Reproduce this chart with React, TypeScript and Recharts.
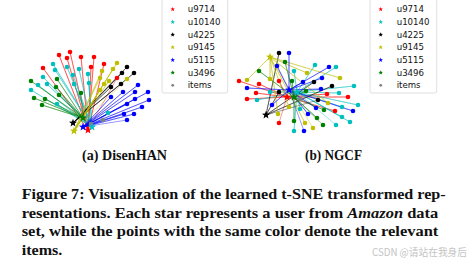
import React from 'react';
import { ScatterChart, Scatter, XAxis, YAxis } from 'recharts';

type P = { x: number; y: number };
const p = (x: number, y: number): P => ({ x, y });

const USERS = ['u9714', 'u10140', 'u4225', 'u9145', 'u5115', 'u3496'];
const USER_COLORS = ['#ff0000', '#00bfbf', '#000000', '#bfbf00', '#0000ff', '#008000'];
const ITEM_LABEL = 'items';
const ITEM_COLOR = '#808080';

// ---- (a) DisenHAN : t-SNE coordinates (arbitrary units) ----
const dhStars: P[] = [p(63, 10), p(67, 13), p(48, 17), p(49, 9), p(58, 13), p(58, 22)];
const dhU9714: P[] = [p(34, 85), p(45, 88), p(42, 82), p(56, 83), p(69, 83), p(66, 73), p(18, 72), p(79, 76), p(92, 62)];
const dhU10140: P[] = [p(28, 76), p(30, 70), p(42, 73), p(54, 71), p(48, 65), p(63, 66), p(18, 63), p(22, 56), p(13, 55), p(49, 56), p(64, 57), p(6, 50), p(32, 36), p(83, 27)];
const dhU4225: P[] = [p(102, 73), p(97, 67), p(109, 67), p(86, 53), p(96, 56)];
const dhU9145: P[] = [p(92, 77), p(77, 69), p(88, 71), p(75, 62), p(84, 59), p(79, 56), p(75, 50), p(102, 61)];
const dhU5115: P[] = [p(113, 55), p(123, 48), p(110, 48), p(98, 48), p(86, 43), p(110, 41), p(124, 40), p(102, 36), p(117, 33), p(99, 26), p(109, 26), p(102, 20)];
const dhU3496: P[] = [p(6, 59), p(32, 61), p(31, 53), p(9, 42), p(20, 41), p(17, 35), p(34, 45), p(56, 47)];
const dhOther: P[] = [p(78, 20), p(66, 16)];

// ---- (b) NGCF ----
const ngStars: P[] = [p(57, 43), p(67, 48), p(36, 25), p(40, 83), p(59, 50), p(64, 43)];
const ngU9714: P[] = [p(9, 59), p(29, 56), p(49, 59), p(26, 47), p(17, 41), p(97, 46), p(118, 43), p(105, 29), p(49, 17)];
const ngU10140: P[] = [p(85, 75), p(64, 69), p(106, 73), p(109, 47), p(124, 54), p(40, 48), p(27, 40), p(112, 33), p(128, 35), p(70, 31), p(112, 23), p(120, 18), p(64, 9), p(106, 15)];
const ngU4225: P[] = [p(49, 87), p(49, 48), p(84, 58), p(102, 54), p(88, 40)];
const ngU9145: P[] = [p(77, 67), p(110, 62), p(17, 60), p(40, 61), p(59, 33), p(98, 37), p(48, 26), p(75, 17), p(83, 12)];
const ngU5115: P[] = [p(59, 87), p(47, 74), p(99, 73), p(92, 62), p(73, 58), p(17, 52), p(91, 51), p(42, 35), p(86, 32), p(123, 29), p(78, 26), p(74, 9)];
const ngU3496: P[] = [p(55, 78), p(29, 69), p(62, 59), p(76, 49), p(94, 30), p(64, 19), p(87, 22), p(93, 15)];
const ngOther: P[] = [p(70, 41)];

const PANEL_W = 135;
const PANEL_H = 95;
const X_DOMAIN: [number, number] = [0, 135];
const Y_DOMAIN: [number, number] = [0, 95];

const starPath = (cx: number, cy: number, ro: number, ri: number) => {
  const pts: string[] = [];
  for (let i = 0; i < 10; i++) {
    const r = i % 2 === 0 ? ro : ri;
    const a = -Math.PI / 2 + (i * Math.PI) / 5;
    pts.push(`${(cx + r * Math.cos(a)).toFixed(2)},${(cy + r * Math.sin(a)).toFixed(2)}`);
  }
  return pts.join(' ');
};

const Nothing = () => <g />;

function Panel({ stars, groups, other, left, top }: { stars: P[]; groups: P[][]; other: P[]; left: number; top: number }) {
  return (
    <div style={{ position: 'absolute', left, top, width: PANEL_W, height: PANEL_H }}>
      <ScatterChart width={PANEL_W} height={PANEL_H} margin={{ top: 0, right: 0, bottom: 0, left: 0 }} style={{ overflow: 'visible' }}>
        <XAxis type="number" dataKey="x" domain={X_DOMAIN} hide allowDataOverflow />
        <YAxis type="number" dataKey="y" domain={Y_DOMAIN} hide allowDataOverflow />
        {groups.map((items, i) => (
          <Scatter
            key={'l' + i}
            data={items.flatMap((it) => [stars[i], it])}
            fill="none"
            line={{ stroke: USER_COLORS[i], strokeWidth: 0.8, strokeOpacity: 0.5, fill: 'none' }}
            shape={Nothing}
            isAnimationActive={false}
          />
        ))}
        <Scatter
          data={other}
          fill={ITEM_COLOR}
          shape={(s: any) => <circle cx={s.cx} cy={s.cy} r={2.3} fill={ITEM_COLOR} />}
          isAnimationActive={false}
        />
        {groups.map((items, i) => (
          <Scatter
            key={'p' + i}
            data={items}
            fill={USER_COLORS[i]}
            shape={(s: any) => <circle cx={s.cx} cy={s.cy} r={2.3} fill={USER_COLORS[i]} />}
            isAnimationActive={false}
          />
        ))}
        {stars.map((st, i) => (
          <Scatter
            key={'s' + i}
            data={[st]}
            fill={USER_COLORS[i]}
            shape={(s: any) => <polygon points={starPath(s.cx, s.cy, 4.2, 1.8)} fill={USER_COLORS[i]} />}
            isAnimationActive={false}
          />
        ))}
      </ScatterChart>
    </div>
  );
}

function LegendBox({ x, markerX, textX }: { x: number; markerX: number; textX: number }) {
  const rows = [...USERS, ITEM_LABEL];
  return (
    <g>
      <rect x={x} y={-3} width={markerX - x + 55 + (textX - markerX - 15)} height={96} rx={2} fill="#fff" stroke="#d6d6d6" strokeWidth={0.8} />
      {rows.map((name, i) => {
        const cy = 9.3 + i * 12.67;
        const isItem = i === USERS.length;
        return (
          <g key={name}>
            {isItem ? (
              <circle cx={markerX} cy={cy} r={1.4} fill={ITEM_COLOR} />
            ) : (
              <polygon points={starPath(markerX, cy, 2.4, 1.0)} fill={USER_COLORS[i]} />
            )}
            <text x={textX} y={cy + 3.1} fontFamily="DejaVu Sans" fontSize={8.6} fill="#111">
              {name}
            </text>
          </g>
        );
      })}
    </g>
  );
}

export default function App() {
  const serif = '"Liberation Serif", "DejaVu Serif", serif';
  return (
    <div style={{ position: 'absolute', left: 0, top: 0, width: 474, height: 262, background: '#fff', overflow: 'hidden' }}>
      <Panel stars={dhStars} groups={[dhU9714, dhU10140, dhU4225, dhU9145, dhU5115, dhU3496]} other={dhOther} left={25} top={45} />
      <Panel stars={ngStars} groups={[ngU9714, ngU10140, ngU4225, ngU9145, ngU5115, ngU3496]} other={ngOther} left={230} top={45} />
      <svg width={474} height={262} style={{ position: 'absolute', left: 0, top: 0, pointerEvents: 'none' }}>
        <LegendBox x={162} markerX={172.7} textX={187.7} />
        <LegendBox x={370} markerX={380.7} textX={396.7} />
        <text x={124.5} y={159.5} textAnchor="middle" fontFamily={serif} fontWeight="bold" fontSize={14} textLength={85} lengthAdjust="spacingAndGlyphs" fill="#111">
          (a) DisenHAN
        </text>
        <text x={333.5} y={159.5} textAnchor="middle" fontFamily={serif} fontWeight="bold" fontSize={14} textLength={57} lengthAdjust="spacingAndGlyphs" fill="#111">
          (b) NGCF
        </text>
        <text x={21.7} y={199.3} fontFamily={serif} fontWeight="bold" fontSize={14.5} textLength={424} lengthAdjust="spacingAndGlyphs" fill="#111">
          Figure 7: Visualization of the learned t-SNE transformed rep-
        </text>
        <text x={21.7} y={217.8} fontFamily={serif} fontWeight="bold" fontSize={14.5} textLength={416.6} lengthAdjust="spacingAndGlyphs" fill="#111">
          resentations. Each star represents a user from <tspan fontStyle="italic">Amazon</tspan> data
        </text>
        <text x={21.7} y={236.3} fontFamily={serif} fontWeight="bold" fontSize={14.5} textLength={416.6} lengthAdjust="spacingAndGlyphs" fill="#111">
          set, while the points with the same color denote the relevant
        </text>
        <text x={21.7} y={254.8} fontFamily={serif} fontWeight="bold" fontSize={14.5} textLength={40.6} lengthAdjust="spacingAndGlyphs" fill="#111">
          items.
        </text>
        <text x={372} y={255.5} fontFamily='"Noto Sans CJK SC", "Noto Sans", sans-serif' fontSize={10.5} textLength={95} lengthAdjust="spacingAndGlyphs" fill="#c4c4c4">
          CSDN @请站在我身后
        </text>
      </svg>
    </div>
  );
}
